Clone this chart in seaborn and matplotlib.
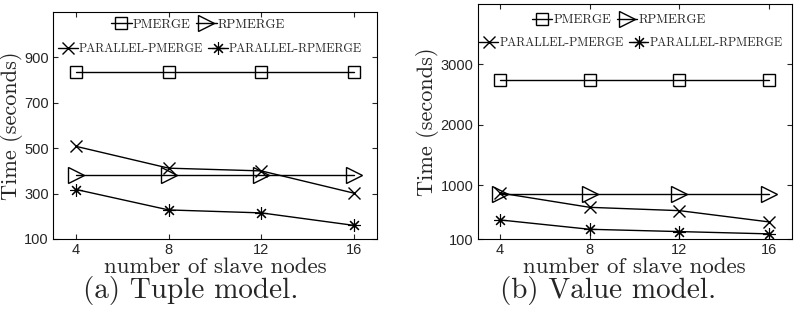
import numpy as np
import pandas as pd
import matplotlib
matplotlib.use("Agg")
import matplotlib.pyplot as plt
import seaborn as sns

sns.set_style("ticks")
plt.rcParams.update({
    "font.family": ["Liberation Sans", "DejaVu Sans"],
    "xtick.direction": "in",
    "ytick.direction": "in",
    "xtick.top": True,
    "ytick.right": True,
    "axes.edgecolor": "black",
    "axes.linewidth": 0.8,
})

nodes = [4, 8, 12, 16]
series = ["PMerge", "RPMerge", "Parallel-PMerge", "Parallel-RPMerge"]
legend_labels = ["PMERGE", "RPMERGE", "PARALLEL-PMERGE", "PARALLEL-RPMERGE"]

# (a) tuple model
tuple_pmerge = [835, 835, 835, 835]
tuple_rpmerge = [383, 383, 383, 383]
tuple_par_pmerge = [508, 412, 400, 302]
tuple_par_rpmerge = [318, 228, 215, 160]

# (b) value model
value_pmerge = [2745, 2745, 2745, 2745]
value_rpmerge = [850, 850, 850, 850]
value_par_pmerge = [868, 630, 575, 388]
value_par_rpmerge = [421, 266, 228, 190]

markers = {"PMerge": "s", "RPMerge": ">", "Parallel-PMerge": "x",
           "Parallel-RPMerge": (8, 2, 0)}
msizes = {"PMerge": 8, "RPMerge": 11, "Parallel-PMerge": 8, "Parallel-RPMerge": 9}


def long_df(values):
    rows = []
    for name, ys in zip(series, values):
        for x, y in zip(nodes, ys):
            rows.append({"nodes": x, "time": y, "series": name})
    return pd.DataFrame(rows)


panels = [
    dict(df=long_df([tuple_pmerge, tuple_rpmerge, tuple_par_pmerge, tuple_par_rpmerge]),
         pos=[0.0666, 0.234, 0.407, 0.7275], ylim=(100, 1100),
         yticks=[100, 300, 500, 700, 900], caption="(a) Tuple model.", cap_x=0.24,
         leg1=(0.448, 0.943), leg2=(0.485, 0.838)),
    dict(df=long_df([value_pmerge, value_rpmerge, value_par_pmerge, value_par_rpmerge]),
         pos=[0.600, 0.233, 0.3945, 0.754], ylim=(100, 4000),
         yticks=[100, 1000, 2000, 3000], caption="(b) Value model.", cap_x=0.7645,
         leg1=(0.45, 0.932), leg2=(0.488, 0.834)),
]

fig = plt.figure(figsize=(7.96, 3.12), dpi=100)
serif = "cmr10"

for p in panels:
    ax = fig.add_axes(p["pos"])
    df = p["df"]
    for name in series:
        mew = 0.8 if name == "Parallel-RPMerge" else 1.0
        sns.lineplot(data=df[df["series"] == name], x="nodes", y="time",
                     marker=markers[name], markersize=msizes[name], color="black",
                     linewidth=1.0, markerfacecolor="none", markeredgecolor="black",
                     markeredgewidth=mew, legend=False, ax=ax)
    ax.set_xlim(3, 17)
    ax.set_ylim(*p["ylim"])
    ax.set_xticks(nodes)
    ax.set_yticks(p["yticks"])
    ax.tick_params(labelsize=10.5, length=3.5, width=0.8, pad=3)
    ax.set_xlabel("number of slave nodes", fontfamily=serif, fontsize=16.5, labelpad=0)
    ax.set_ylabel("Time (seconds)", fontfamily=serif, fontsize=16, labelpad=1)

    h = ax.lines
    leg_kw = dict(loc="center", ncol=2, frameon=False, handlelength=1.6,
                  handletextpad=0.1, columnspacing=0.4, borderpad=0, borderaxespad=0)
    l1 = ax.legend(h[:2], legend_labels[:2], bbox_to_anchor=p["leg1"],
                   prop={"family": serif, "size": 9.3}, **leg_kw)
    ax.add_artist(l1)
    ax.legend(h[2:], legend_labels[2:], bbox_to_anchor=p["leg2"],
              prop={"family": serif, "size": 8.8}, **leg_kw)

    fig.text(p["cap_x"], 0.068, p["caption"], fontfamily=serif, fontsize=21,
             ha="center", va="center")

fig.savefig("out.png", dpi=100)
